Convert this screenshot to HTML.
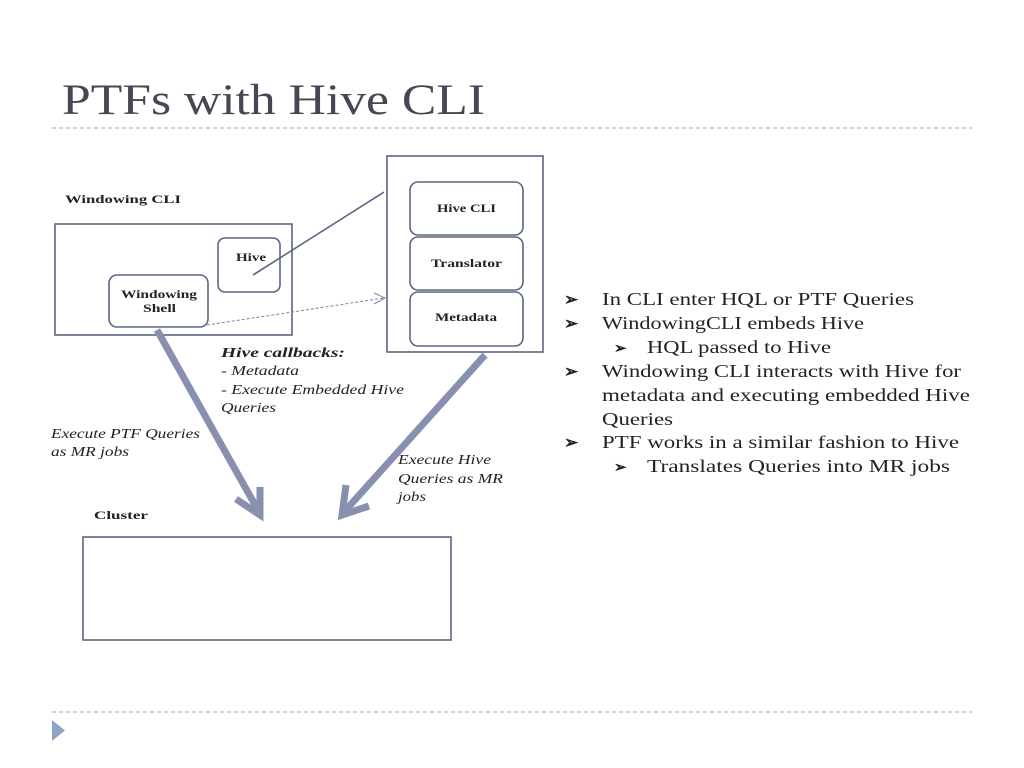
<!DOCTYPE html>
<html><head><style>body{margin:0;background:#fff}svg{display:block}</style></head><body>
<svg width="1024" height="768" viewBox="0 0 1024 768" xmlns="http://www.w3.org/2000/svg" font-family="Liberation Serif, serif">
<rect width="1024" height="768" fill="#fff"/>
<text x="62" y="114" font-size="43" fill="#464655" textLength="423" lengthAdjust="spacingAndGlyphs">PTFs with Hive CLI</text>
<line x1="52" y1="128" x2="972" y2="128" stroke="#a9bccf" stroke-width="1.2" stroke-dasharray="4,3"/>
<line x1="52" y1="712" x2="972" y2="712" stroke="#a9bccf" stroke-width="1.2" stroke-dasharray="4,3"/>
<polygon points="52,720 52,741 65,730.5" fill="#8ea4c3"/>
<g fill="none" stroke="#5c6584" stroke-width="1.6">
<rect x="55" y="224" width="237" height="111"/>
<rect x="218" y="238" width="62" height="54" rx="7"/>
<rect x="109" y="275" width="99" height="52" rx="8"/>
<rect x="387" y="156" width="156" height="196"/>
<rect x="410" y="182" width="113" height="53" rx="8"/>
<rect x="410" y="237" width="113" height="53" rx="8"/>
<rect x="410" y="292" width="113" height="54" rx="8"/>
<rect x="83" y="537" width="368" height="103"/>
<line x1="384" y1="192" x2="253" y2="275"/>
</g>
<line x1="207" y1="325" x2="384" y2="298" stroke="#7a84a4" stroke-width="1" stroke-dasharray="3,2"/>
<polyline points="374,293 385,298 374,304" fill="none" stroke="#7a84a4" stroke-width="1"/>
<g stroke="#8890b0" stroke-width="7" fill="none" stroke-linejoin="miter">
<line x1="157" y1="330" x2="259" y2="512"/>
<polyline points="236,499 260,515 260,487"/>
<line x1="485" y1="355" x2="344" y2="512"/>
<polyline points="346,485 342,515 369,506"/>
</g>
<g font-size="12" font-weight="bold" fill="#222">
<text x="65" y="203" textLength="116" lengthAdjust="spacingAndGlyphs">Windowing CLI</text>
<text x="236" y="261" textLength="30" lengthAdjust="spacingAndGlyphs">Hive</text>
<text x="121" y="298" textLength="76" lengthAdjust="spacingAndGlyphs">Windowing</text>
<text x="143" y="312" textLength="33" lengthAdjust="spacingAndGlyphs">Shell</text>
<text x="437" y="212" textLength="59" lengthAdjust="spacingAndGlyphs">Hive CLI</text>
<text x="431" y="267" textLength="71" lengthAdjust="spacingAndGlyphs">Translator</text>
<text x="435" y="321" textLength="62" lengthAdjust="spacingAndGlyphs">Metadata</text>
<text x="94" y="519" textLength="54" lengthAdjust="spacingAndGlyphs">Cluster</text>
</g>
<g font-size="13.5" font-style="italic" fill="#222">
<text x="221" y="357" font-weight="bold" textLength="124" lengthAdjust="spacingAndGlyphs">Hive callbacks:</text>
<text x="221" y="375" textLength="78" lengthAdjust="spacingAndGlyphs">- Metadata</text>
<text x="221" y="394" textLength="183" lengthAdjust="spacingAndGlyphs">- Execute Embedded Hive</text>
<text x="221" y="412" textLength="55" lengthAdjust="spacingAndGlyphs">Queries</text>
<text x="51" y="438" textLength="149" lengthAdjust="spacingAndGlyphs">Execute PTF Queries</text>
<text x="51" y="456" textLength="78" lengthAdjust="spacingAndGlyphs">as MR jobs</text>
<text x="398" y="464" textLength="93" lengthAdjust="spacingAndGlyphs">Execute Hive</text>
<text x="398" y="483" textLength="105" lengthAdjust="spacingAndGlyphs">Queries as MR</text>
<text x="398" y="501" textLength="28" lengthAdjust="spacingAndGlyphs">jobs</text>
</g>
<g font-size="18" fill="#222">
<text x="564" y="305" font-size="17" font-weight="bold">➢</text><text x="602" y="305" textLength="312" lengthAdjust="spacingAndGlyphs">In CLI enter HQL or PTF Queries</text>
<text x="564" y="329" font-size="17" font-weight="bold">➢</text><text x="602" y="329" textLength="262" lengthAdjust="spacingAndGlyphs">WindowingCLI embeds Hive</text>
<text x="614" y="353" font-size="15" font-weight="bold">➢</text><text x="647" y="353" textLength="184" lengthAdjust="spacingAndGlyphs">HQL passed to Hive</text>
<text x="564" y="377" font-size="17" font-weight="bold">➢</text><text x="602" y="377" textLength="359" lengthAdjust="spacingAndGlyphs">Windowing CLI interacts with Hive for</text>
<text x="602" y="401" textLength="368" lengthAdjust="spacingAndGlyphs">metadata and executing embedded Hive</text>
<text x="602" y="425" textLength="71" lengthAdjust="spacingAndGlyphs">Queries</text>
<text x="564" y="448" font-size="17" font-weight="bold">➢</text><text x="602" y="448" textLength="357" lengthAdjust="spacingAndGlyphs">PTF works in a similar fashion to Hive</text>
<text x="614" y="472" font-size="15" font-weight="bold">➢</text><text x="647" y="472" textLength="303" lengthAdjust="spacingAndGlyphs">Translates Queries  into MR jobs</text>
</g>
</svg>
</body></html>
